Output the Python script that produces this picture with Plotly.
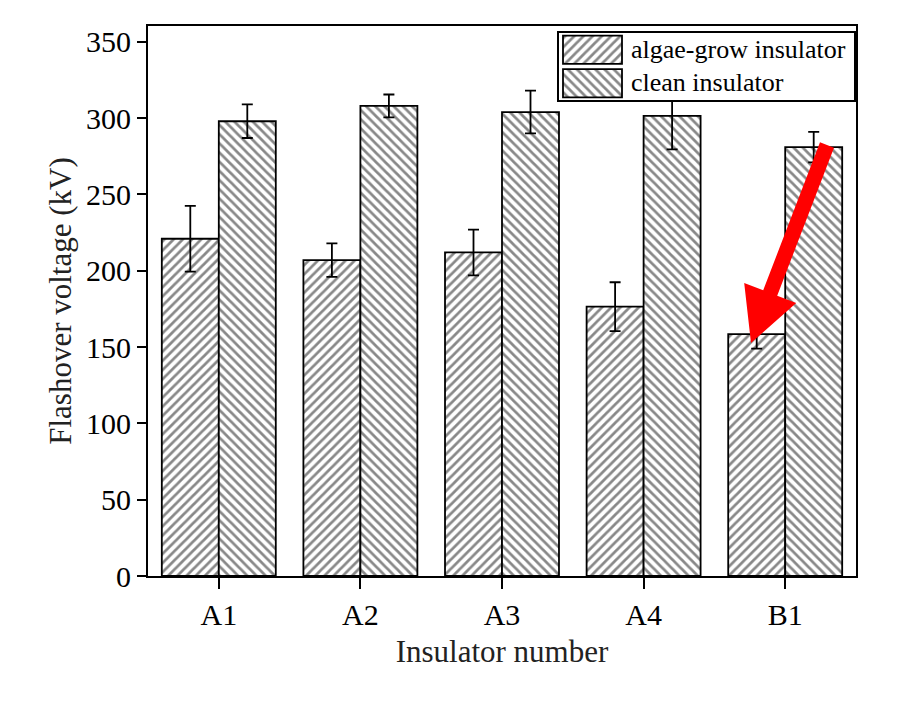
import plotly.graph_objects as go

# ---- data ----
categories = ["A1", "A2", "A3", "A4", "B1"]
series_names = ["algae-grow insulator", "clean insulator"]
algae_values = [221, 207, 212, 176.5, 158.5]
algae_errors = [21.5, 11, 15, 16, 9.5]
clean_values = [298, 308, 304, 301.5, 281]
clean_errors = [11, 7.5, 14, 22, 10]
y_ticks = [0, 50, 100, 150, 200, 250, 300, 350]

FONT = "Liberation Serif"
patterns = ["/", "\\"]
PAT = dict(fgcolor="#111", bgcolor="white", size=6.5, solidity=0.42)

fig = go.Figure()

for name, vals, errs, pat in [
    (series_names[0], algae_values, algae_errors, patterns[0]),
    (series_names[1], clean_values, clean_errors, patterns[1]),
]:
    fig.add_trace(go.Bar(
        x=categories, y=vals, name=name, showlegend=False,
        marker=dict(color="white", line=dict(color="black", width=1.8),
                    pattern=dict(shape=pat, **PAT)),
        error_y=dict(type="data", array=errs, visible=True, color="black",
                     thickness=1.8, width=5.5),
        xaxis="x", yaxis="y",
    ))

# custom legend: swatches drawn as bars in an inset subplot
fig.add_trace(go.Bar(
    x=[1, 1], y=series_names, orientation="h", showlegend=False,
    width=0.84,
    marker=dict(color="white", line=dict(color="black", width=1.8),
                pattern=dict(shape=patterns, **PAT)),
    xaxis="x2", yaxis="y2", hoverinfo="skip",
))

# plot area in pixels
L, R, T, B = 148, 856, 26, 576
W, H = R - L, B - T
def px(x):
    return (x - L) / W
def py(y):
    return (B - y) / H

leg_x0, leg_x1, leg_y0, leg_y1 = 559, 854, 33, 100
sw_x0, sw_x1 = 563, 622
ppu = sw_x1 - sw_x0
r0 = -(sw_x0 - leg_x0) / ppu
r1 = r0 + (leg_x1 - leg_x0) / ppu

for i, name in enumerate(series_names):
    yc = [50, 82.5][i]
    fig.add_annotation(text=name, xref="paper", yref="paper",
                       x=px(629), y=py(yc), xanchor="left", yanchor="middle",
                       showarrow=False, font=dict(family=FONT, size=26, color="black"))

# red arrow
arrow_pts = [(834, 147.7), (777.2, 295.7), (796.2, 303), (751, 343),
             (744.2, 283), (763.2, 290.3), (820, 142.3)]
path = "M " + " L ".join(f"{px(x):.5f},{py(y):.5f}" for x, y in arrow_pts) + " Z"
fig.add_shape(type="path", path=path, xref="paper", yref="paper",
              fillcolor="#ff0000", line=dict(width=0), layer="above")

fig.update_layout(
    width=920, height=701,
    margin=dict(l=L, r=920 - R, t=T, b=701 - B, pad=0),
    paper_bgcolor="white", plot_bgcolor="white",
    barmode="group", bargap=0.195, bargroupgap=0,
    font=dict(family=FONT, color="black"),
    xaxis=dict(
        domain=[0, 1], showline=True, linecolor="black", linewidth=1.8, mirror=True,
        ticks="outside", ticklen=11, tickwidth=1.8, tickcolor="black",
        tickfont=dict(family=FONT, size=30, color="black"),
        title=dict(text="Insulator number", font=dict(family=FONT, size=31, color="#222"),
                   standoff=10),
        showgrid=False, zeroline=False,
    ),
    yaxis=dict(
        domain=[0, 1], range=[0, 360.4], showline=True, linecolor="black", linewidth=1.8,
        mirror=True, tickvals=y_ticks, ticks="outside", ticklen=9, tickwidth=1.8,
        tickcolor="black", tickfont=dict(family=FONT, size=30, color="black"),
        title=dict(text="Flashover voltage (kV)", font=dict(family=FONT, size=31, color="#222"),
                   standoff=5),
        showgrid=False, zeroline=False,
    ),
    xaxis2=dict(
        domain=[px(leg_x0), px(leg_x1)], anchor="y2", range=[r0, r1],
        showline=True, mirror=True, linecolor="black", linewidth=1.8,
        showticklabels=False, ticks="", showgrid=False, zeroline=False,
    ),
    yaxis2=dict(
        domain=[py(leg_y1), py(leg_y0)], anchor="x2", range=[1.5, -0.5],
        type="category",
        showline=True, mirror=True, linecolor="black", linewidth=1.8,
        showticklabels=False, ticks="", showgrid=False, zeroline=False,
    ),
)

fig.write_html("out.html")
